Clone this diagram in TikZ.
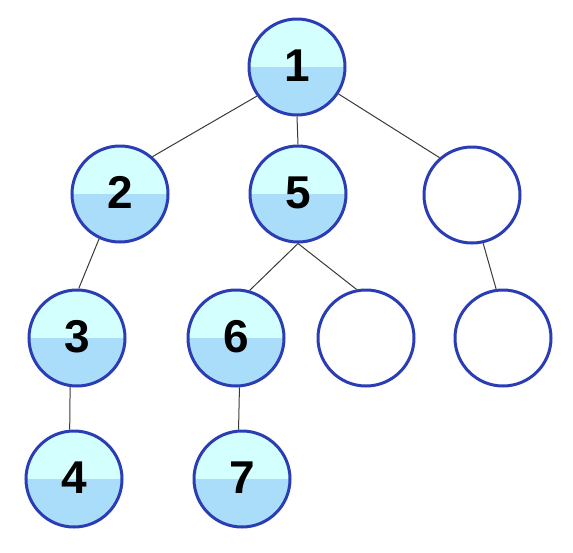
\documentclass[tikz,border=0pt]{standalone}
\usepackage{fontspec}
\setmainfont{Liberation Sans}
\definecolor{toptone}{HTML}{D4FFFF}
\definecolor{bottone}{HTML}{AADDFA}
\definecolor{ringblue}{HTML}{2B3DB5}
\definecolor{edgegray}{HTML}{3A3A34}
\tikzset{
  treenode/.style={circle, draw=ringblue, line width=3pt, minimum size=96pt, inner sep=0pt,
    font=\fontsize{46}{46}\selectfont\bfseries},
  filled/.style={treenode, path picture={
      \fill[toptone] (path picture bounding box.north west) rectangle (path picture bounding box.east);
      \fill[bottone] (path picture bounding box.west) rectangle (path picture bounding box.south east);}},
  emptynode/.style={treenode, fill=white},
  link/.style={draw=edgegray, line width=1pt}
}
\newcommand{\dg}[1]{\raisebox{3pt}{#1}}
\begin{document}
\begin{tikzpicture}[x=1pt,y=-1pt]
\useasboundingbox (0,0) rectangle (573,552);
\node[filled] (n1) at (297,67) {\dg{1}};
\node[filled] (n2) at (120,194) {\dg{2}};
\node[filled] (n5) at (298,194) {\dg{5}};
\node[emptynode] (na) at (472,195) {};
\node[filled] (n3) at (77,338) {\dg{3}};
\node[filled] (n6) at (236,338) {\dg{6}};
\node[emptynode] (nb) at (366,338) {};
\node[emptynode] (nc) at (503,338) {};
\node[filled] (n4) at (74,479) {\dg{4}};
\node[filled] (n7) at (242,479) {\dg{7}};
\draw[link] (n1.216) -- (n2.49);
\draw[link] (n1.south) -- (n5.north);
\draw[link] (n1.327) -- (na.131);
\draw[link] (n2.245) -- (n3.88);
\draw[link] (n5.south) -- (n6.74);
\draw[link] (n5.south) -- (nb.101);
\draw[link] (na.283) -- (nc.98);
\draw[link] (n3.262) -- (n4.95);
\draw[link] (n6.274) -- (n7.94);
\end{tikzpicture}
\end{document}
